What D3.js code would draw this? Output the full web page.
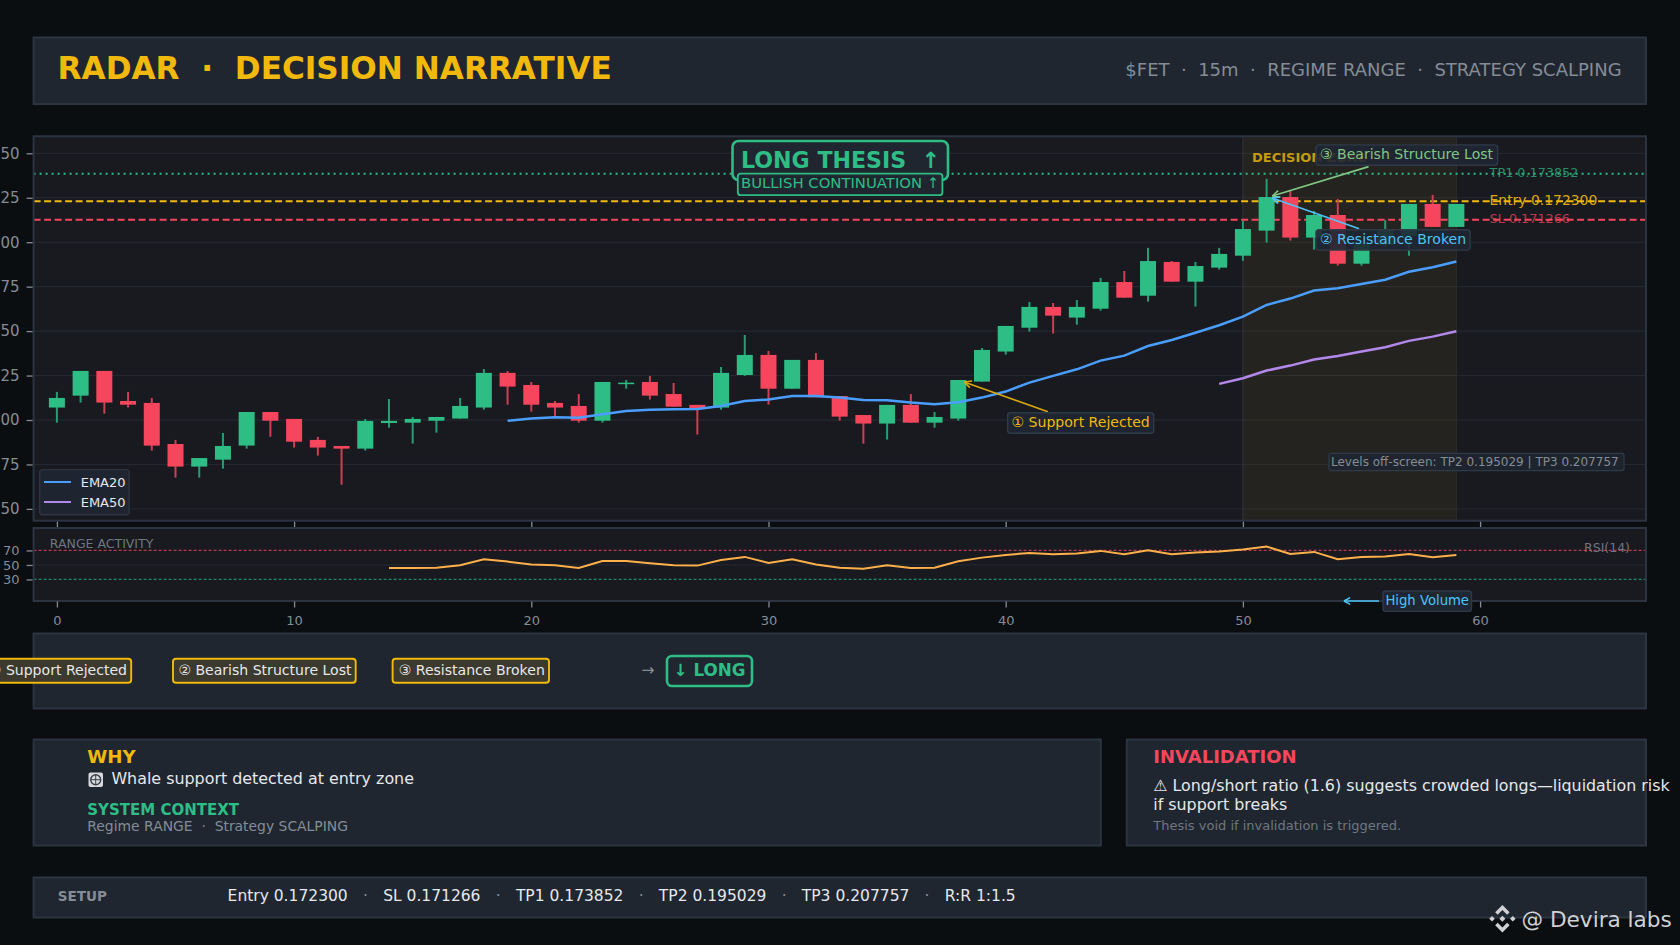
<!DOCTYPE html>
<html><head><meta charset="utf-8">
<script src="https://cdn.jsdelivr.net/npm/d3@7/dist/d3.min.js"></script>
<style>html,body{margin:0;padding:0;background:#0b0e11;overflow:hidden}svg{display:block}text{font-family:"DejaVu Sans",sans-serif}</style>
</head><body><svg id="c" width="1680" height="945"></svg>
<script>
const candleOpen=[160.70,161.37,162.76,161.07,160.96,158.65,157.38,157.77,158.56,160.45,160.06,158.88,158.54,158.39,159.83,159.85,159.96,160.08,160.70,162.65,161.97,160.96,160.79,159.96,162.05,162.14,161.46,160.85,160.70,162.53,163.66,161.76,163.38,161.35,160.28,159.80,160.85,159.85,160.08,162.16,163.85,165.19,166.36,165.76,166.26,167.76,166.99,168.89,167.78,168.57,169.24,170.65,172.54,170.26,171.53,168.79,169.84,170.35,172.15,170.86];
const candleHigh=[161.58,162.76,162.76,161.58,161.24,158.88,157.86,159.27,160.45,160.45,160.06,159.05,158.54,160.06,161.18,160.17,160.17,161.24,162.87,162.76,162.14,161.07,161.46,162.14,162.25,162.48,162.08,160.85,162.98,164.78,163.88,163.38,163.77,161.35,160.28,160.85,161.46,160.45,162.25,164.05,165.29,166.64,166.58,166.75,167.99,168.38,169.68,168.94,168.89,169.68,171.19,173.56,172.88,171.76,172.43,170.03,171.25,172.15,172.66,172.15];
const candleLow=[159.85,160.98,160.36,160.70,158.28,156.76,156.76,157.26,158.39,159.06,158.45,158.00,156.36,158.28,159.57,158.67,159.29,160.08,160.58,160.86,160.47,160.23,159.85,159.85,161.76,161.15,160.75,159.18,160.58,162.48,160.86,161.76,161.28,159.96,158.67,158.90,159.85,159.57,159.96,162.16,163.68,164.97,164.86,165.36,166.15,166.88,166.66,167.78,166.38,168.46,168.96,169.98,170.09,169.58,168.68,168.68,169.75,169.24,170.86,170.86];
const candleClose=[161.24,162.76,160.98,160.86,158.56,157.38,157.86,158.54,160.45,159.96,158.78,158.45,158.39,159.95,159.95,160.06,160.17,160.79,162.65,161.88,160.86,160.70,159.96,162.14,162.10,161.37,160.75,160.66,162.65,163.66,161.76,163.38,161.28,160.19,159.80,160.85,159.85,160.17,162.25,163.94,165.29,166.36,165.87,166.36,167.76,166.88,168.94,167.78,168.66,169.34,170.74,172.54,170.26,171.53,168.79,169.94,170.74,172.15,170.86,172.15];
const ema20Start=19;
const ema20=[159.96,160.08,160.15,160.13,160.32,160.51,160.58,160.60,160.62,160.79,161.07,161.15,161.35,161.35,161.26,161.13,161.11,160.98,160.88,161.00,161.26,161.60,162.10,162.48,162.85,163.34,163.62,164.16,164.50,164.91,165.33,165.81,166.47,166.83,167.28,167.41,167.65,167.89,168.34,168.59,168.91];
const ema50Start=49;
const ema50=[162.03,162.35,162.78,163.06,163.40,163.60,163.85,164.09,164.45,164.69,164.99];
const rsiStart=14;
const rsi=[45.9,45.9,46.3,49.5,57.8,54.6,50.5,49.5,45.9,55.5,55.5,52.3,49.5,49.1,56.9,61.1,52.8,57.8,50.5,46.3,44.9,49.5,45.9,46.3,55.1,60.1,63.8,66.6,64.7,65.7,69.4,64.7,70.3,64.7,67.1,68.4,71.2,75.3,65.2,68.0,57.8,61.1,61.5,65.2,60.6,63.8];
const priceTicks=[155,157.5,160,162.5,165,167.5,170,172.5,175];
const xTicks=[0,10,20,30,40,50,60];
const rsiTicks=[30,50,70];
const levels=[{name:"TP1",value:173.852,color:"#2ebd85",dash:"2 4",label:"TP1 0.173852"},{name:"Entry",value:172.300,color:"#f0b90b",dash:"7 3.5",label:"Entry 0.172300"},{name:"SL",value:171.266,color:"#f6465d",dash:"7 3.5",label:"SL 0.171266"}];
const annotations=[
 {text:"① Support Rejected",color:"#f0b90b",arrow:"#d9a70f",tip:[38.25,162.14],from:[41.78,160.47],at:[43.16,159.83]},
 {text:"③ Bearish Structure Lost",color:"#81c784",arrow:"#81c784",tip:[51.24,172.60],from:[55.3,174.25],at:[56.9,174.90]},
 {text:"② Resistance Broken",color:"#4fc3f7",arrow:"#4fc3f7",tip:[51.24,172.49],from:[54.9,170.76],at:[56.33,170.13]}
];
const chips=[{t:"① Support Rejected",x:-20,w:151.2},{t:"② Bearish Structure Lost",x:173,w:182.7},{t:"③ Resistance Broken",x:392.6,w:156.4}];
const setupItems=["Entry 0.172300","SL 0.171266","TP1 0.173852","TP2 0.195029","TP3 0.207757","R:R 1:1.5"];
const C={bg:"#0b0e11",panel:"#1f2630",plot:"#181a20",border:"#2b3440",grid:"#262a31",grey:"#868c96",green:"#2ebd85",red:"#f6465d",yellow:"#f0b90b",blue:"#4a9eff",purple:"#b388eb",orange:"#ffb04a",cyan:"#4fc3f7",text:"#e6e8eb"};
const svg=d3.select("#c");
const L=33.6,R=1646,W=R-L;
function box(x,y,w,h,fill,stroke,sw,r){return svg.append("rect").attr("x",x).attr("y",y).attr("width",w).attr("height",h).attr("fill",fill).attr("stroke",stroke||"none").attr("stroke-width",sw||0).attr("rx",r||0);}
function txt(s,x,y,size,fill,o){o=o||{};const t=(o.g||svg).append("text").attr("x",x).attr("y",y).attr("font-size",size).attr("fill",fill).style("white-space","pre").text(s);if(o.bold)t.attr("font-weight","bold");if(o.anchor)t.attr("text-anchor",o.anchor);if(o.op)t.attr("opacity",o.op);if(o.ls)t.attr("letter-spacing",o.ls);return t;}
box(0,0,1680,945,C.bg);
// header
box(L,37.5,W,66.5,C.panel,C.border,2);
txt("RADAR  ·  DECISION NARRATIVE",57.6,79,31.15,C.yellow,{bold:true});
txt("$FET  ·  15m  ·  REGIME RANGE  ·  STRATEGY SCALPING",1621.6,76,18,C.grey,{anchor:"end"});
// scales
const x=d3.scaleLinear().domain([-1,67]).range([56.9-23.72,56.9+23.72*67]);
const y=d3.scaleLinear().domain([175,155]).range([153.3,508.9]);
const ry=d3.scaleLinear().domain([0,100]).range([601.2,528.7]);
const plotTop=136.3,bot=520.7;
// main panel
box(L,plotTop,W,bot-plotTop,C.plot);
const gridG=svg.append("g");
gridG.selectAll("line").data(priceTicks).join("line").attr("x1",L).attr("x2",R).attr("y1",d=>y(d)).attr("y2",d=>y(d)).attr("stroke",C.grid).attr("stroke-width",1);
// decision zone
box(x(50),plotTop,x(59)-x(50),bot-plotTop,"rgba(240,185,11,0.06)");
svg.append("g").selectAll("line").data([50,59]).join("line").attr("x1",d=>x(d)).attr("x2",d=>x(d)).attr("y1",plotTop).attr("y2",bot).attr("stroke",d=>d==50?"#323539":"#2c2d2d").attr("stroke-width",1);
txt("DECISION ZONE",1252,161.5,13,"#d9a70f",{bold:true,op:.9});
// levels
svg.append("g").selectAll("line").data(levels).join("line").attr("x1",L).attr("x2",R).attr("y1",d=>y(d.value)).attr("y2",d=>y(d.value)).attr("stroke",d=>d.color).attr("stroke-width",2).attr("stroke-dasharray",d=>d.dash);
// candles
const data=candleOpen.map((o,i)=>({i,o,h:candleHigh[i],l:candleLow[i],c:candleClose[i]}));
const cg=svg.append("g");
const colorOf=d=>d.c>=d.o?C.green:C.red;
const band=16;
cg.selectAll(".w").data(data).join("line").attr("class","w").attr("x1",d=>x(d.i)).attr("x2",d=>x(d.i)).attr("y1",d=>y(d.h)).attr("y2",d=>y(d.l)).attr("stroke",d=>d.c>=d.o?"#279e72":"#cf3e52").attr("stroke-width",2);
cg.selectAll(".b").data(data).join("rect").attr("class","b").attr("x",d=>x(d.i)-band/2).attr("width",band).attr("y",d=>y(Math.max(d.o,d.c))).attr("height",d=>Math.max(1.5,Math.abs(y(d.o)-y(d.c)))).attr("fill",colorOf);
// ema
const line=d3.line().x(d=>x(d[0])).y(d=>y(d[1]));
svg.append("path").attr("d",line(ema20.map((v,i)=>[i+ema20Start,v]))).attr("fill","none").attr("stroke",C.blue).attr("stroke-width",2.5);
svg.append("path").attr("d",line(ema50.map((v,i)=>[i+ema50Start,v]))).attr("fill","none").attr("stroke",C.purple).attr("stroke-width",2.5);
// level labels
const lvSize={TP1:12.8,Entry:13.9,SL:12.8};
const lvOff={TP1:3,Entry:4,SL:3};
levels.forEach(l=>txt(l.label,1489.6,y(l.value)+lvOff[l.name],lvSize[l.name],l.color,{op:l.name=="Entry"?.9:.72}));
// main frame
box(L,plotTop,W,bot-plotTop,"none",C.border,2);
// axes
const ax=d3.axisLeft(y).tickValues(priceTicks).tickFormat(d=>(d/1000).toFixed(4)).tickSize(6).tickPadding(7);
const ag=svg.append("g").attr("transform",`translate(${L-1},0)`).call(ax);
ag.select(".domain").remove();ag.selectAll("line").attr("stroke",C.grey).attr("stroke-width",1.3);ag.selectAll("text").attr("font-size",15).attr("fill",C.grey).style("font-family","'DejaVu Sans'");
const axT=d3.axisBottom(x).tickValues(xTicks).tickFormat("").tickSize(6);
const tg=svg.append("g").attr("transform",`translate(0,${bot+1})`).call(axT);
tg.select(".domain").remove();tg.selectAll("line").attr("stroke",C.grey).attr("stroke-width",1.3);
// thesis
box(732.5,141,215.5,39,C.panel,C.green,2.6,6);
txt("LONG THESIS  ↑",741,167.6,22.1,C.green,{bold:true});
box(737.8,173.6,204.6,21.6,C.panel,C.green,1.8,3);
txt("BULLISH CONTINUATION ↑",741,188,14.85,C.green,{});
// annotations
annotations.forEach((a,k)=>{
 const g=svg.append("g");
 g.append("line").attr("x1",x(a.from[0])).attr("y1",y(a.from[1])).attr("x2",x(a.tip[0])).attr("y2",y(a.tip[1])).attr("stroke",a.arrow).attr("stroke-width",1.6);
 const ang=Math.atan2(y(a.tip[1])-y(a.from[1]),x(a.tip[0])-x(a.from[0]));
 const tx=x(a.tip[0]),ty=y(a.tip[1]);
 [0.45,-0.45].forEach(d=>g.append("line").attr("x1",tx).attr("y1",ty).attr("x2",tx-8*Math.cos(ang+d)).attr("y2",ty-8*Math.sin(ang+d)).attr("stroke",a.arrow).attr("stroke-width",1.6));
 const t=txt(a.text,x(a.at[0]),y(a.at[1])+4,14.05,a.color,{anchor:"middle",g});
 const b=t.node().getBBox();
 g.insert("rect","text").attr("x",b.x-4).attr("y",y(a.at[1])-10.2).attr("width",b.width+8).attr("height",20.4).attr("rx",3).attr("fill","#1f2733").attr("fill-opacity",.9).attr("stroke","#2f3a48").attr("stroke-width",1.4);
});
box(1329,453.4,295,17.2,C.panel,"#2f3a48",1.2,2).attr("fill-opacity",.9);
txt("Levels off-screen: TP2 0.195029 | TP3 0.207757",1331,466.4,12,C.grey,{});
// legend
box(39.6,469.6,89.6,45.2,"#1e2530",C.border,1.4,3);
[["EMA20",C.blue,482],["EMA50",C.purple,502]].forEach(d=>{svg.append("line").attr("x1",44).attr("x2",71).attr("y1",d[2]).attr("y2",d[2]).attr("stroke",d[1]).attr("stroke-width",2);txt(d[0],80.7,d[2]+4.5,13,C.text);});
// RSI panel
box(L,528,W,73,C.plot);
const ruleData=[{v:70,c:"#b8394b",d:"3 2"},{v:50,c:"#23262c",d:null},{v:30,c:"#23846a",d:"3 2"}];
svg.append("g").selectAll("line").data(ruleData).join("line").attr("x1",L).attr("x2",R).attr("y1",d=>ry(d.v)).attr("y2",d=>ry(d.v)).attr("stroke",d=>d.c).attr("stroke-width",1.2).attr("stroke-dasharray",d=>d.d);
svg.append("path").attr("d",d3.line().x(d=>x(d[0])).y(d=>ry(d[1]))(rsi.map((v,i)=>[i+rsiStart,v]))).attr("fill","none").attr("stroke",C.orange).attr("stroke-width",2);
box(L,528,W,73,"none",C.border,2);
const ry2=d3.axisLeft(ry).tickValues(rsiTicks).tickSize(6).tickPadding(7);
const rg=svg.append("g").attr("transform",`translate(${L-1},0)`).call(ry2);
rg.select(".domain").remove();rg.selectAll("line").attr("stroke",C.grey).attr("stroke-width",1.3);rg.selectAll("text").attr("font-size",13).attr("fill",C.grey).style("font-family","'DejaVu Sans'");
const bx=d3.axisBottom(x).tickValues(xTicks).tickFormat(d3.format("d")).tickSize(6).tickPadding(8);
const bg=svg.append("g").attr("transform",`translate(0,601.5)`).call(bx);
bg.select(".domain").remove();bg.selectAll("line").attr("stroke",C.grey).attr("stroke-width",1.3);bg.selectAll("text").attr("font-size",13).attr("fill",C.grey).style("font-family","'DejaVu Sans'");
txt("RANGE ACTIVITY",49.8,547.5,12.5,"#6f7680");
txt("RSI(14)",1630,552,12.5,"#6f7680",{anchor:"end"});
// High volume
svg.append("line").attr("x1",1379).attr("x2",1344).attr("y1",601).attr("y2",601).attr("stroke",C.cyan).attr("stroke-width",1.6);
[0.5,-0.5].forEach(d=>svg.append("line").attr("x1",1344).attr("y1",601).attr("x2",1344+7*Math.cos(d)).attr("y2",601+7*Math.sin(d)).attr("stroke",C.cyan).attr("stroke-width",1.6));
box(1383,591,88.5,20.4,"#1f2733","#2f3a48",1.4,3);
txt("High Volume",1427.2,604.6,13.2,C.cyan,{anchor:"middle"});
// narrative strip
box(L,633.5,W,75,C.panel,C.border,2);
chips.forEach(c=>{box(c.x,658.8,c.w,24,"#3c3a2e",C.yellow,1.9,3);txt(c.t,c.x+c.w-4.2,675,14.05,C.text,{anchor:"end"});});
txt("→",641.5,675,15.5,C.grey);
box(667,656,85,30,C.panel,C.green,2.6,5);
txt("↓ LONG",673.5,675.8,16.8,C.green,{bold:true});
// why
box(L,739.5,1067.2,106,C.panel,C.border,2);
txt("WHY",87.3,763,18.2,C.yellow,{bold:true});
box(88.5,772.5,14.5,14.5,"#d8dadd",null,0,2);
svg.append("circle").attr("cx",95.7).attr("cy",779.7).attr("r",5).attr("fill","#d8dadd").attr("stroke","#3a4048").attr("stroke-width",1.4);
svg.append("line").attr("x1",90.7).attr("x2",100.7).attr("y1",779.7).attr("y2",779.7).attr("stroke","#3a4048");
svg.append("line").attr("x1",95.7).attr("x2",95.7).attr("y1",774.7).attr("y2",784.7).attr("stroke","#3a4048");
txt("Whale support detected at entry zone",111.4,784,15.9,C.text);
txt("SYSTEM CONTEXT",87.3,815,15,C.green,{bold:true});
txt("Regime RANGE  ·  Strategy SCALPING",87.3,831,13.9,C.grey);
// invalidation
box(1126.8,739.5,519.2,106,C.panel,C.border,2);
txt("INVALIDATION",1153.3,763,18,C.red,{bold:true});
txt("⚠ Long/short ratio (1.6) suggests crowded longs—liquidation risk",1153.3,790.6,15.85,C.text);
txt("if support breaks",1153.3,809.6,15.85,C.text);
txt("Thesis void if invalidation is triggered.",1153.3,830,13,"#6f7680");
// setup
box(L,877.5,W,40,C.panel,C.border,2);
txt("SETUP",57.8,900.7,13.5,C.grey,{bold:true});
let cursor=227.6;
setupItems.forEach((s,i)=>{const t=txt(s,cursor,901,15.5,C.text);cursor+=t.node().getComputedTextLength();if(i<setupItems.length-1){txt("·",cursor+17.7,901,15.5,C.grey,{anchor:"middle"});cursor+=35.4;}});
// watermark
const wm=svg.append("g").attr("transform","translate(1502.4,918.8)").attr("fill","#cfd1d4");
[1,-1].forEach(s=>wm.append("path").attr("d",`M0,${-13.7*s}L7.2,${-6.5*s}L4.7,${-4*s}L0,${-8.7*s}L-4.7,${-4*s}L-7.2,${-6.5*s}Z`));
[[0,0,3],[-10.4,0,2.8],[10.4,0,2.8]].forEach(p=>wm.append("path").attr("d",`M${p[0]},${p[1]-p[2]}L${p[0]+p[2]},${p[1]}L${p[0]},${p[1]+p[2]}L${p[0]-p[2]},${p[1]}Z`));
txt("@ Devira labs",1521.5,927,21.6,"#cfd1d4");
</script></body></html>
